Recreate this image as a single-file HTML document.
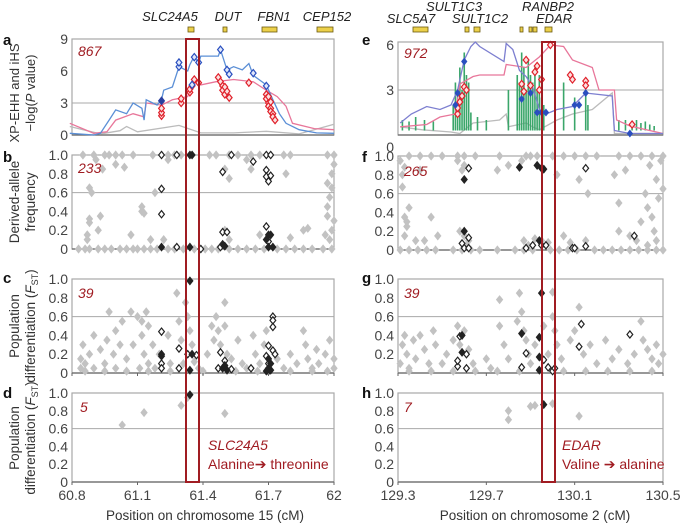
<!DOCTYPE html>
<html><head><meta charset="utf-8"><style>
body{margin:0;background:#fff;}
svg{display:block;font-family:"Liberation Sans",sans-serif;}
</style></head><body>
<svg id="fig" width="685" height="524" viewBox="0 0 685 524" xmlns="http://www.w3.org/2000/svg"></svg>
<script>
// ---- data ----
const leftTicks = ["60.8","61.1","61.4","61.7","62"];
const leftTickVals = [60.8,61.1,61.4,61.7,62.0];
const rightTicks = ["129.3","129.7","130.1","130.5"];
const rightTickVals = [129.3,129.7,130.1,130.5];
const aBlue = [[60.79,0.16],[60.9,0],[60.93,0.16],[60.97,1.4],[61.0,2.35],[61.05,2.0],[61.08,3.0],[61.12,2.5],[61.13,1.4],[61.14,3.3],[61.19,2.8],[61.21,3.3],[61.22,4.2],[61.26,4.5],[61.29,6.4],[61.33,6.0],[61.34,6.6],[61.36,7.4],[61.38,6.7],[61.39,7.4],[61.47,7.4],[61.48,8.0],[61.51,6.1],[61.54,6.4],[61.58,6.1],[61.61,6.7],[61.63,5.6],[61.69,4.7],[61.72,3.3],[61.75,2.0],[61.78,1.1],[61.84,0.5],[61.92,0.2],[62.0,0.16]];
const aPink = [[60.79,1.1],[60.9,0.16],[60.96,0.3],[61.0,1.4],[61.08,2.0],[61.13,1.7],[61.14,3.0],[61.21,2.8],[61.26,3.3],[61.33,3.6],[61.35,5.0],[61.39,4.7],[61.46,5.0],[61.54,5.2],[61.63,5.0],[61.69,4.2],[61.74,3.6],[61.78,2.7],[61.81,1.1],[61.91,0.6],[62.0,0.5]];
const aGrey = [[60.79,0.8],[60.93,0.1],[61.02,0.4],[61.05,0.8],[61.1,0.3],[61.29,0.9],[61.39,0.2],[61.54,0.2],[61.69,0.35],[61.84,0.1],[62.0,1.0]];
const aRed = [[61.21,1.8],[61.21,2.1],[61.21,2.5],[61.3,3.0],[61.3,3.4],[61.34,4.0],[61.34,4.3],[61.35,4.6],[61.36,5.2],[61.38,4.9],[61.47,5.4],[61.48,5.0],[61.49,4.6],[61.49,4.2],[61.5,3.8],[61.51,4.1],[61.52,3.5],[61.5,4.5],[61.61,4.9],[61.69,3.8],[61.69,3.4],[61.7,3.0],[61.7,2.7],[61.71,2.5],[61.71,2.2],[61.72,2.0],[61.72,1.7],[61.73,1.4],[61.7,3.6],[61.71,3.1]];
const aBlueD = [[61.29,6.4],[61.29,6.8],[61.36,7.3],[61.38,6.8],[61.48,8.0],[61.51,6.1],[61.52,5.7],[61.63,5.8],[61.69,4.6],[61.35,4.7]];
const eBlue = [[129.31,0.8],[129.36,1.4],[129.43,1.9],[129.49,1.7],[129.54,2.0],[129.57,3.0],[129.6,5.0],[129.63,5.9],[129.65,6.2],[129.67,5.9],[129.78,4.9],[129.79,6.1],[129.82,5.7],[129.85,4.3],[129.88,3.9],[129.91,3.2],[129.94,1.7],[129.97,1.4],[130.02,1.7],[130.09,1.9],[130.15,2.8],[130.27,2.6],[130.28,0.3],[130.35,0.1],[130.5,0.1]];
const ePink = [[129.31,0.55],[129.43,0.7],[129.49,1.2],[129.56,1.4],[129.58,3.4],[129.64,3.9],[129.67,4.0],[129.78,4.0],[129.79,4.7],[129.88,4.5],[129.94,5.2],[129.99,6.0],[130.05,5.9],[130.09,5.0],[130.18,4.5],[130.21,3.0],[130.28,3.0],[130.29,1.0],[130.35,0.6],[130.5,0.1]];
const eGrey = [[129.31,0.55],[129.41,0.35],[129.54,0.2],[129.58,0.1],[129.64,0.8],[129.76,1.0],[129.79,1.4],[129.8,0.55],[129.88,0.8],[129.91,0.55],[129.94,0.35],[130.02,1.0],[130.09,1.4],[130.18,1.7],[130.27,2.8],[130.28,0.1],[130.5,0.1]];
const eGreenX = [129.32,129.35,129.38,129.42,129.46,129.55,129.56,129.57,129.58,129.59,129.6,129.61,129.62,129.63,129.66,129.7,129.8,129.84,129.85,129.86,129.87,129.88,129.89,129.9,129.91,129.92,129.93,129.94,129.95,129.96,130.05,130.1,130.15,130.16,130.3,130.33,130.36,130.38,130.4,130.42,130.44,130.46];
const eGreenY = [1.0,0.9,1.2,1.0,0.9,2.0,3.5,3.0,4.5,3.0,5.5,4.0,3.5,1.5,1.2,1.0,3.0,4.0,3.5,5.5,4.5,3.0,5.0,4.0,3.5,4.5,3.0,4.0,2.5,2.0,3.5,2.5,3.0,2.0,1.0,1.0,0.9,1.0,0.8,0.9,0.7,0.6];
const eRed = [[129.57,1.4],[129.57,1.8],[129.58,2.2],[129.59,2.6],[129.6,3.2],[129.61,3.0],[129.86,3.4],[129.87,2.9],[129.88,5.0],[129.9,3.3],[129.92,4.2],[129.93,4.6],[129.94,3.0],[129.95,3.7],[129.99,6.0],[130.08,4.0],[130.09,3.7],[130.15,3.6],[130.15,3.3],[130.36,0.7]];
const eBlueD = [[129.6,4.9],[129.57,2.8],[129.86,2.4],[129.9,2.8],[129.93,1.5],[129.95,1.5],[129.97,1.5],[130.1,2.0],[130.12,2.0],[130.15,2.8],[130.35,0.1],[129.56,2.0]];
const bGrey = [[60.85,1],[60.9,1],[60.95,1],[60.97,1],[61.0,1],[61.03,1],[61.08,1],[61.17,1],[61.24,1],[61.27,1],[61.3,1],[61.43,1],[61.46,1],[61.52,1],[61.56,1],[61.62,1],[61.66,1],[61.77,1],[61.8,1],[61.97,1],[62.0,1],
[60.83,0],[60.86,0],[60.88,0],[60.92,0],[60.95,0],[60.98,0],[61.02,0],[61.05,0],[61.08,0],[61.1,0],[61.13,0],[61.16,0],[61.19,0],[61.24,0],[61.27,0],[61.31,0],[61.36,0],[61.41,0],[61.44,0],[61.47,0],[61.52,0],[61.56,0],[61.6,0],[61.64,0],[61.68,0],[61.74,0],[61.78,0],[61.82,0],[61.86,0],[61.9,0],[61.95,0],[61.99,0],
[60.87,0.1],[60.87,0.15],[60.88,0.32],[60.88,0.28],[60.88,0.65],[60.89,0.6],[60.91,0.95],[60.92,0.2],[60.93,0.35],[60.94,0.85],[61.0,0.9],[61.04,0.87],[61.07,0.15],[61.12,0.45],[61.12,0.4],[61.13,0.38],[61.18,0.6],[61.16,0.1],[61.22,0.1],[61.24,0.95],[61.5,0.2],[61.5,0.85],[61.52,0.75],[61.52,0.1],[61.6,0.95],[61.62,0.85],[61.66,0.15],[61.78,0.8],[61.8,0.12],[61.86,0.2],[61.88,0.22],[61.96,0.15],[61.97,0.35],[61.97,0.45],[61.98,0.55],[61.99,0.65],[61.99,0.8],[62.0,0.3],[62.0,0.9],[61.99,0.2],[61.98,0.1],[61.97,0.7]];
const bOpen = [[61.21,1.0],[61.21,0.64],[61.21,0.37],[61.28,1.0],[61.28,0.02],[61.49,0.82],[61.49,0.18],[61.51,0.18],[61.48,0.02],[61.53,1.0],[61.63,0.93],[61.69,1.0],[61.71,1.0],[61.69,0.84],[61.69,0.77],[61.69,0.24],[61.71,0.78],[61.7,0.72],[61.7,0.08],[61.39,0.0]];
const bFill = [[61.34,1.0],[61.35,1.0],[61.21,0.02],[61.34,0.02],[61.5,0.03],[61.49,0.05],[61.7,0.15],[61.71,0.15],[61.7,0.02],[61.72,0.02],[61.69,0.1]];
const fGrey = [[129.35,1],[129.4,1],[129.45,1],[129.5,1],[129.57,1],[129.6,1],[129.65,1],[129.76,1],[129.88,1],[129.9,1],[129.93,1],[130.0,1],[130.05,1],[130.1,1],[130.15,1],[130.2,1],[130.3,1],[130.35,1],[130.4,1],[130.45,1],[130.5,1],
[129.31,0],[129.35,0],[129.39,0],[129.43,0],[129.47,0],[129.55,0],[129.59,0],[129.63,0],[129.67,0],[129.75,0],[129.83,0],[129.87,0],[129.91,0],[129.99,0],[130.03,0],[130.07,0],[130.11,0],[130.19,0],[130.23,0],[130.27,0],[130.31,0],[130.35,0],[130.39,0],[130.43,0],[130.47,0],[130.5,0],
[129.31,0.95],[129.33,0.88],[129.34,0.3],[129.33,0.35],[129.34,0.25],[129.33,0.15],[129.35,0.45],[129.32,0.67],[129.32,0.8],[129.38,0.1],[129.42,0.1],[129.4,0.85],[129.45,0.35],[129.48,0.15],[129.57,0.95],[129.59,0.85],[129.6,0.9],[129.58,0.2],[129.6,0.15],[129.62,0.1],[129.61,0.05],[129.75,0.85],[129.8,0.9],[129.86,0.95],[129.87,0.1],[129.89,0.05],[129.92,0.12],[129.95,0.1],[129.98,0.08],[130.02,0.8],[130.05,0.15],[130.08,0.08],[130.12,0.75],[130.15,0.1],[130.16,0.6],[130.28,0.8],[130.3,0.5],[130.3,0.2],[130.33,0.85],[130.35,0.15],[130.38,0.1],[130.4,0.3],[130.42,0.6],[130.43,0.45],[130.44,0.9],[130.45,0.35],[130.46,0.2],[130.47,0.75],[130.48,0.55],[130.49,0.95],[130.5,0.65],[130.47,0.1],[130.43,0.05]];
const fFill = [[129.6,0.75],[129.6,0.2],[129.85,0.88],[129.93,0.9],[129.95,0.87],[129.96,0.86],[129.94,0.1]];
const fOpen = [[129.62,0.87],[129.59,0.07],[129.62,0.13],[129.6,0.02],[129.62,0.02],[129.88,0.02],[129.91,0.05],[129.95,0.05],[129.97,0.05],[130.09,0.02],[130.1,0.02],[130.15,0.04],[130.15,0.87],[130.37,0.15]];
const cGrey = [[60.84,0.05],[60.84,0.15],[60.85,0.3],[60.86,0.1],[60.88,0.2],[60.9,0.4],[60.9,0.05],[60.93,0.25],[60.95,0.1],[60.96,0.35],[60.97,0.65],[60.99,0.2],[61.0,0.45],[61.0,0.05],[61.02,0.3],[61.03,0.55],[61.05,0.15],[61.07,0.65],[61.08,0.3],[61.1,0.6],[61.11,0.05],[61.12,0.55],[61.12,0.4],[61.13,0.2],[61.14,0.65],[61.15,0.5],[61.15,0.1],[61.17,0.3],[61.18,0.05],[61.2,0.2],[61.24,0.4],[61.25,0.1],[61.28,0.85],[61.29,0.55],[61.3,0.35],[61.31,0.1],[61.32,0.75],[61.33,0.6],[61.34,0.45],[61.35,0.3],[61.36,0.12],[61.38,0.05],[61.42,0.2],[61.44,0.5],[61.45,0.35],[61.46,0.6],[61.47,0.45],[61.48,0.3],[61.5,0.75],[61.5,0.5],[61.51,0.2],[61.53,0.15],[61.56,0.35],[61.58,0.1],[61.6,0.05],[61.63,0.4],[61.64,0.2],[61.66,0.1],[61.68,0.3],[61.69,0.45],[61.74,0.15],[61.77,0.05],[61.8,0.2],[61.83,0.1],[61.86,0.45],[61.87,0.3],[61.88,0.15],[61.9,0.05],[61.92,0.25],[61.93,0.1],[61.96,0.2],[61.98,0.35],[62.0,0.15],[62.0,0.05],[60.86,0.02],[60.95,0.02],[61.05,0.02],[61.15,0.02],[61.25,0.02],[61.4,0.02],[61.55,0.02],[61.65,0.02],[61.8,0.02],[61.9,0.02],[61.97,0.02]];
const cFill = [[61.21,0.18],[61.21,0.2],[61.34,0.03],[61.34,0.98],[61.35,0.2],[61.49,0.05],[61.5,0.08],[61.51,0.03],[61.69,0.02],[61.7,0.05],[61.71,0.1],[61.7,0.15],[61.7,0.02],[61.71,0.03]];
const cOpen = [[61.21,0.44],[61.21,0.1],[61.21,0.05],[61.29,0.26],[61.29,0.05],[61.33,0.2],[61.37,0.19],[61.48,0.22],[61.47,0.05],[61.5,0.13],[61.53,0.04],[61.62,0.05],[61.72,0.6],[61.72,0.56],[61.72,0.49],[61.7,0.29],[61.72,0.24],[61.73,0.2],[61.69,0.18],[61.7,0.1]];
const gGrey = [[129.31,0.1],[129.32,0.3],[129.33,0.4],[129.34,0.2],[129.35,0.05],[129.37,0.35],[129.38,0.15],[129.4,0.4],[129.42,0.25],[129.44,0.1],[129.46,0.45],[129.47,0.3],[129.5,0.1],[129.52,0.2],[129.55,0.35],[129.57,0.5],[129.58,0.3],[129.6,0.45],[129.62,0.25],[129.64,0.1],[129.7,0.15],[129.72,0.05],[129.76,0.78],[129.76,0.5],[129.78,0.3],[129.8,0.15],[129.84,0.55],[129.85,0.85],[129.86,0.65],[129.87,0.45],[129.88,0.35],[129.89,0.2],[129.9,0.1],[129.92,0.3],[129.96,0.5],[129.98,0.2],[130.0,0.86],[130.0,0.6],[130.01,0.45],[130.02,0.3],[130.04,0.15],[130.08,0.35],[130.1,0.45],[130.12,0.7],[130.14,0.2],[130.17,0.3],[130.2,0.1],[130.24,0.35],[130.27,0.15],[130.3,0.25],[130.34,0.1],[130.37,0.2],[130.4,0.55],[130.41,0.35],[130.43,0.25],[130.45,0.15],[130.47,0.3],[130.48,0.1],[130.5,0.2],[129.35,0.02],[129.45,0.02],[129.55,0.02],[129.65,0.02],[129.75,0.02],[129.85,0.02],[130.05,0.02],[130.15,0.02],[130.25,0.02],[130.35,0.02],[130.45,0.02]];
const gFill = [[129.59,0.4],[129.59,0.22],[129.86,0.42],[129.94,0.38],[129.94,0.17],[129.95,0.85],[129.94,0.03]];
const gOpen = [[129.57,0.07],[129.57,0.13],[129.61,0.05],[129.61,0.2],[129.58,0.39],[129.88,0.21],[129.86,0.06],[129.96,0.14],[129.98,0.06],[130.0,0.02],[130.13,0.52],[130.12,0.28],[130.35,0.41],[130.01,0.05]];
const dGrey = [[61.03,0.64],[61.13,0.78],[61.3,0.86],[61.33,0.95],[61.5,0.77]];
const dFill = [[61.34,0.98]];
const hGrey = [[129.8,0.8],[129.8,0.7],[129.9,0.85],[129.92,0.86],[130.0,0.88],[130.12,0.74]];
const hFill = [[129.96,0.87]];

// ---- layout ----
const NS="http://www.w3.org/2000/svg";
const svg=document.getElementById('fig');
function el(tag,attrs,parent){const e=document.createElementNS(NS,tag);for(const k in attrs)e.setAttribute(k,attrs[k]);(parent||svg).appendChild(e);return e;}
const L={x0:72,x1:334,d0:60.8,d1:62.0}, R={x0:398,x1:663,d0:129.3,d1:130.5};
function mk(side,yTop,yBot,vmax){return {x:v=>side.x0+(v-side.d0)/(side.d1-side.d0)*(side.x1-side.x0),y:v=>yBot-(v/vmax)*(yBot-yTop),side,yTop,yBot};}
const P={
 a:mk(L,39,135,9), b:mk(L,155,249,1), c:mk(L,279,373,1), d:mk(L,393,482,1),
 e:mk(R,42,135,6.2), f:mk(R,156,250,1), g:mk(R,279,373,1), h:mk(R,393,482,1)};

function frame(p,name,grid,ticks,tickLabels){
 const g=el('g',{});
 
 
 const r=el('rect',{x:p.side.x0,y:p.yTop,width:p.side.x1-p.side.x0,height:p.yBot-p.yTop,fill:'none',stroke:'#a8a8a8','stroke-width':1.2},g);
 
 grid.forEach(v=>{const l=el('line',{x1:p.side.x0,x2:p.side.x1,y1:p.y(v),y2:p.y(v),stroke:'#a8a8a8','stroke-width':1},g);
  });
 el('line',{x1:p.side.x0,x2:p.side.x1,y1:p.yBot,y2:p.yBot,stroke:'#666','stroke-width':1.3},g);
 ticks.forEach((v,i)=>{const t=el('text',{x:p.side.x0-4,y:p.y(v)+5,'text-anchor':'end','font-size':14,fill:'#444'},g);
  t.textContent=tickLabels[i];});
 return g;}
const t1=[0,0.2,0.4,0.6,0.8,1.0], t1l=["0","0.2","0.4","0.6","0.8","1.0"];
const ga=frame(P.a,'a',[3],[0,3,6,9],["0","3","6","9"]);
const gb=frame(P.b,'b',[0.6],t1,t1l);
const gc=frame(P.c,'c',[0.6],t1,t1l);
const gd=frame(P.d,'d',[0.6],t1,t1l);
const ge=frame(P.e,'e',[3],[3,6],["3","6"]);
const t0=el('text',{x:394,y:152,'text-anchor':'end','font-size':14,fill:'#444'});t0.textContent="0";

const gf=frame(P.f,'f',[0.6],t1,t1l);
const gg=frame(P.g,'g',[0.6],t1.slice(1),t1l.slice(1));
const gh=frame(P.h,'h',[0.6],t1,t1l);

function line(p,pts,color,g,name,w){const d=pts.map((q,i)=>(i?'L':'M')+p.x(q[0]).toFixed(1)+' '+p.y(q[1]).toFixed(1)).join(' ');
 const e=el('path',{d,fill:'none',stroke:color,'stroke-width':w||1.3},g);
 }
function dia(p,pts,fill,stroke,g,name,s){s=s||3.6;pts.forEach(q=>{const x=p.x(q[0]),y=p.y(q[1]);
 const e=el('path',{d:`M${x} ${y-s}L${x+s*0.8} ${y}L${x} ${y+s}L${x-s*0.8} ${y}Z`,fill,stroke,'stroke-width':stroke==='none'?0:1.2},g);
 });}
const GS=4.6;

line(P.a,aGrey,'#bbbbbb',ga,'ihs-line');
line(P.a,aPink,'#e8769a',ga,'xpehh-ceu-line');
line(P.a,aBlue,'#5b8fd6',ga,'xpehh-asn-line');
dia(P.a,aRed,'#fbe0e0','#e0202a',ga,'red-snp-marker');
dia(P.a,aBlueD,'#e0e8fb','#2a4fbf',ga,'blue-snp-marker');
dia(P.a,[[61.21,3.2]],'#2a3f9f','#2a3f9f',ga,'blue-snp-marker');

line(P.e,eGrey,'#bbbbbb',ge,'ihs-line');
eGreenX.forEach((x,i)=>{const e=el('line',{x1:P.e.x(x),x2:P.e.x(x),y1:P.e.y(0.3),y2:P.e.y(eGreenY[i]),stroke:'#3aa66a','stroke-width':1.6},ge);
 });
line(P.e,ePink,'#e8769a',ge,'xpehh-pink-line');
line(P.e,eBlue,'#7d7fd0',ge,'xpehh-blue-line');
dia(P.e,eRed,'#fbe0e0','#e0202a',ge,'red-snp-marker');
dia(P.e,eBlueD,'#2a4fbf','#2a4fbf',ge,'blue-snp-marker',3);

dia(P.b,bGrey,'#c2c2c2','none',gb,'grey-snp',GS);dia(P.b,bOpen,'#fff','#222',gb,'open-snp');dia(P.b,bFill,'#222','#222',gb,'filled-snp');
dia(P.f,fGrey,'#c2c2c2','none',gf,'grey-snp',GS);dia(P.f,fOpen,'#fff','#222',gf,'open-snp');dia(P.f,fFill,'#222','#222',gf,'filled-snp');
dia(P.c,cGrey,'#c2c2c2','none',gc,'grey-snp',GS);dia(P.c,cOpen,'#fff','#222',gc,'open-snp');dia(P.c,cFill,'#222','#222',gc,'filled-snp');
dia(P.g,gGrey,'#c2c2c2','none',gg,'grey-snp',GS);dia(P.g,gOpen,'#fff','#222',gg,'open-snp');dia(P.g,gFill,'#222','#222',gg,'filled-snp');
dia(P.d,dGrey,'#c2c2c2','none',gd,'grey-snp',GS);dia(P.d,dFill,'#222','#222',gd,'filled-snp');
dia(P.h,hGrey,'#c2c2c2','none',gh,'grey-snp',GS);dia(P.h,hFill,'#222','#222',gh,'filled-snp');

// x ticks
[[L,leftTickVals,leftTicks],[R,rightTickVals,rightTicks]].forEach(([s,vals,labs])=>{vals.forEach((v,i)=>{const x=s.x0+(v-s.d0)/(s.d1-s.d0)*(s.x1-s.x0);
 [373,482].forEach(y=>el('line',{x1:x,x2:x,y1:y,y2:y+3,stroke:'#666'}));
 const t=el('text',{x,y:500,'text-anchor':'middle','font-size':14,fill:'#444'});t.textContent=labs[i];
 });});

// red highlight boxes
[[186,39,13],[542,42,13]].forEach(([x,y,w])=>{const r=el('rect',{x,y,width:w,height:482-y,fill:'none',stroke:'#a01c22','stroke-width':2});
 });

function txt(x,y,s,attrs,name){const t=el('text',Object.assign({x,y},attrs));t.textContent=s;return t;}
// panel letters
[['a',3,45],['b',3,162],['c',3,283],['d',3,398],['e',362,45],['f',362,162],['g',362,283],['h',362,398]].forEach(([s,x,y])=>txt(x,y,s,{'font-size':15,'font-weight':'bold',fill:'#111'},'panel-letter-'+s));
// counts
[['867',78,56],['233',78,173],['39',78,298],['5',80,412],['972',404,58],['265',404,176],['39',404,298],['7',404,412]].forEach(([s,x,y])=>txt(x,y,s,{'font-size':14,'font-style':'italic',fill:'#a01c22'},'snp-count'));
// gene labels & bars
const geneLab=[['SLC24A5',170,21],['DUT',228,21],['FBN1',274,21],['CEP152',327,21],['SLC5A7',411,23],['SULT1C3',454,11],['SULT1C2',480,23],['RANBP2',548,11],['EDAR',554,23]];
geneLab.forEach(([s,x,y])=>txt(x,y,s,{'font-size':13,'font-style':'italic','text-anchor':'middle',fill:'#222'},'gene-label'));
[[188,6],[223,4],[262,15],[317,16],[413,15],[465,4],[474,6],[520,3],[529,3],[533,4],[545,7]].forEach(([x,w])=>{const r=el('rect',{x,y:27,width:w,height:5,fill:'#ecd04a',stroke:'#6b5a10','stroke-width':0.8});
 });
// y-axis titles
function ytitle(lines,cx,cy,name,fs){const t=el('text',{transform:`translate(${cx},${cy}) rotate(-90)`,'text-anchor':'middle','font-size':fs||13.5,fill:'#333'});
 lines.forEach((ln,i)=>{const ts=el('tspan',{x:0,dy:i?16:0},t);ts.innerHTML=ln;});}
ytitle(['XP-EHH and iHS','\u2212log(<tspan font-style="italic">P</tspan> value)'],19,93,'y-axis-title-a',13);
ytitle(['Derived-allele','frequency'],19,202,'y-axis-title-b');
ytitle(['Population','differentiation (<tspan font-style="italic">F</tspan><tspan font-size="9" dy="3">ST</tspan><tspan dy="-3">)</tspan>'],19,326,'y-axis-title-c');
ytitle(['Population','differentiation (<tspan font-style="italic">F</tspan><tspan font-size="9" dy="3">ST</tspan><tspan dy="-3">)</tspan>'],19,438,'y-axis-title-d');
// annotations
txt(208,450,'SLC24A5',{'font-size':14,'font-style':'italic',fill:'#a01c22'},'annotation-gene');
txt(208,469,'Alanine\u2794 threonine',{'font-size':14,fill:'#a01c22'},'annotation-mutation');
txt(562,450,'EDAR',{'font-size':14,'font-style':'italic',fill:'#a01c22'},'annotation-gene');
txt(562,469,'Valine \u2794 alanine',{'font-size':14,fill:'#a01c22'},'annotation-mutation');
txt(205,520,'Position on chromosome 15 (cM)',{'font-size':13.5,'text-anchor':'middle',fill:'#333'},'x-axis-title-left');
txt(535,520,'Position on chromosome 2 (cM)',{'font-size':13.5,'text-anchor':'middle',fill:'#333'},'x-axis-title-right');
</script>
</body></html>
